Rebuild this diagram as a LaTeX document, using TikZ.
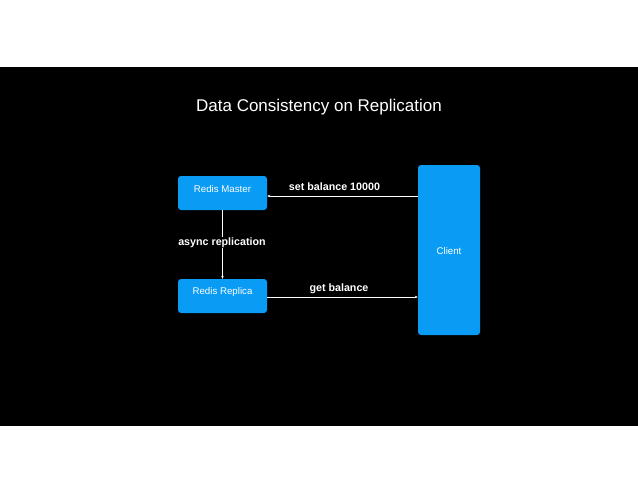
\documentclass[tikz,border=0pt]{standalone}
\usepackage{fontspec}
\setmainfont{Liberation Sans}
\usetikzlibrary{arrows.meta}
\begin{document}
\begin{tikzpicture}[x=1pt,y=-1pt,
  box/.style={fill={rgb,255:red,10;green,155;blue,245}, rounded corners=3pt, text=white, font=\fontsize{9.7}{11}\selectfont},
  conn/.style={draw=white, line width=0.5pt, -{Stealth[length=3pt,width=2.5pt]}},
  lbl/.style={text=white, font=\bfseries\fontsize{10.7}{12}\selectfont}]
\useasboundingbox (0,0) rectangle (638,493);
\fill[white] (0,0) rectangle (638,493);
\fill[black] (0,67) rectangle (638,426);
\node[text=white, font=\fontsize{17}{20}\selectfont] (title) at (319,107) {Data Consistency on Replication};
\node[box, minimum width=89pt, minimum height=34pt] (master) at (222.5,193) {};
\node[box, minimum width=89pt, minimum height=34pt] (replica) at (222.5,296) {};
\node[text=white, font=\fontsize{9.7}{11}\selectfont] (mt) at (222.5,189) {Redis Master};
\node[text=white, font=\fontsize{9.7}{11}\selectfont] (rt) at (222.5,292) {Redis Replica};
\node[box, minimum width=62pt, minimum height=170pt] (client) at (449,250) {};
\node[text=white, font=\fontsize{9.7}{11}\selectfont] (ct) at (449,251) {Client};
\draw[conn] (client.west |- 0,196) -- (master.east |- 0,196);
\draw[conn] (master) -- (replica);
\draw[conn] (replica.east |- 0,297) -- (client.west |- 0,297);
\node[lbl] (l1) at (334.5,186.5) {set balance 10000};
\node[lbl] (l2) at (339,288.5) {get balance};
\node[lbl, fill=black, inner sep=1pt] (l3) at (222,242.5) {async replication};
\end{tikzpicture}
\end{document}
